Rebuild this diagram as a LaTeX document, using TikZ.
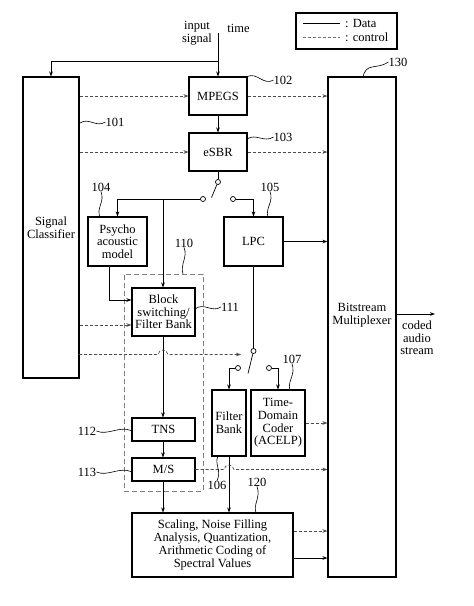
\documentclass[tikz,border=0pt]{standalone}
\usepackage{fontspec}
\setmainfont{Liberation Serif}
\usetikzlibrary{arrows.meta,calc}
\newcommand{\myfnt}{\fontsize{12.5}{12.7}\selectfont}
\tikzset{
  box/.style={draw, line width=1.1pt, inner sep=0pt, align=center, font=\myfnt},
  txt/.style={inner sep=0pt, align=center, font=\myfnt},
  data/.style={line width=0.7pt, -{Stealth[length=5pt,width=3.6pt]}},
  dataline/.style={line width=0.7pt},
  ctrl/.style={line width=0.7pt, draw=black!70, dash pattern=on 3pt off 2pt, -{Stealth[length=5pt,width=3.6pt]}},
  ctrlline/.style={line width=0.7pt, draw=black!55, dash pattern=on 3pt off 2pt},
  grp/.style={draw=black!50, line width=0.8pt, dash pattern=on 5pt off 3pt, inner sep=0pt},
  sw/.style={circle, draw, line width=0.7pt, fill=white, minimum size=5pt, inner sep=0pt},
  sq/.style={line width=0.6pt}
}
\begin{document}
\begin{tikzpicture}[x=1pt,y=-1pt]
\useasboundingbox (0,0) rectangle (474,606);
% legend
\node[draw, line width=1.1pt, minimum width=101pt, minimum height=36pt] (leg) at (346.5,31) {};
\coordinate (lg1a) at (303,23); \coordinate (lg1b) at (340,23);
\coordinate (lg2a) at (303,37); \coordinate (lg2b) at (340,37);
\draw[dataline] (lg1a) -- (lg1b);
\draw[ctrlline] (lg2a) -- (lg2b);
\node[txt, anchor=west] (lgt1) at (345,23) {: Data};
\node[txt, anchor=west] (lgt2) at (345,37) {: control};
% input
\node[txt] (insig) at (197,33) {input\\signal};
\node[txt] (time) at (238.5,28) {time};
% boxes
\node[box, minimum width=56pt, minimum height=301pt] (sc) at (51,227.5) {Signal\\Classifier};
\node[box, minimum width=58pt, minimum height=38pt] (mpegs) at (218,96) {MPEGS};
\node[box, minimum width=58pt, minimum height=38pt] (esbr) at (218,152) {eSBR};
\node[box, minimum width=59pt, minimum height=49pt] (psy) at (117.5,241.5) {Psycho\\acoustic\\model};
\node[box, minimum width=59pt, minimum height=49pt] (lpc) at (253.5,241.5) {LPC};
\node[grp, minimum width=79pt, minimum height=217pt] (g110) at (163.5,382.5) {};
\node[box, minimum width=63pt, minimum height=48pt] (blk) at (163.5,312) {Block\\switching/\\Filter Bank};
\node[box, minimum width=63pt, minimum height=23pt] (tns) at (163.5,429.5) {TNS};
\node[box, minimum width=63pt, minimum height=23pt] (ms) at (163.5,469.5) {M/S};
\node[box, minimum width=34pt, minimum height=66pt] (fb) at (229,423) {Filter\\Bank};
\node[box, minimum width=54pt, minimum height=66pt] (tdc) at (278,423) {Time-\\Domain\\Coder\\(ACELP)};
\node[box, minimum width=161pt, minimum height=64pt] (scal) at (212.5,545) {Scaling, Noise Filling\\Analysis, Quantization,\\Arithmetic Coding of\\Spectral Values};
\node[box, minimum width=68pt, minimum height=500pt] (mux) at (362,327) {};
\node[txt] (muxt) at (362,315) {Bitstream\\Multiplexer};
\node[txt] (outt) at (417,338) {coded\\audio\\stream};
% input connections
\coordinate (in) at (218,33);
\coordinate (j) at (218,61);
\draw[data] (in) -- (mpegs.north);
\draw[data] (j) -| (sc.north);
% control to/from mpegs, esbr
\draw[ctrl] (sc.east |- mpegs.west) -- (mpegs.west);
\draw[ctrl] (mpegs.east) -- (mpegs.east -| mux.west);
\draw[ctrl] (sc.east |- esbr.west) -- (esbr.west);
\draw[ctrl] (esbr.east) -- (esbr.east -| mux.west);
\draw[data] (mpegs) -- (esbr);
% switch 1
\node[sw] (p1) at (218,182) {};
\node[sw] (c1l) at (203,199) {};
\node[sw] (c1r) at (233,199) {};
\coordinate (a1) at (211.5,197.5);
\draw[dataline] (esbr.south) -- (p1.north);
\draw[dataline] (p1) -- (a1);
\draw[data] (c1l.west) -| (psy.north);
\coordinate (b1) at (163,199);
\draw[data] (b1) -- (b1 |- blk.north);
\draw[data] (c1r.east) -| (lpc.north);
\draw[data] (lpc.east) -- (lpc.east -| mux.west);
% psycho to block
\coordinate (bw1) at ([yshift=12pt]blk.west);
\coordinate (bw2) at ([yshift=-13pt]blk.west);
\coordinate (pb) at ([xshift=-8.5pt]psy.south);
\draw[data] (pb) |- (bw1);
\draw[ctrl] (sc.east |- bw2) -- (bw2);
% chain
\draw[data] (blk.south -| b1) -- (b1 |- tns.north);
\draw[data] (tns.south -| b1) -- (b1 |- ms.north);
\draw[data] (ms.south -| b1) -- (b1 |- scal.north);
% switch 2
\node[sw] (p2) at (253.5,351) {};
\node[sw] (c2l) at (238,368) {};
\node[sw] (c2r) at (269,368) {};
\coordinate (a2) at (248,373.5);
\draw[dataline] (lpc.south -| p2) -- (p2.north);
\draw[dataline] (p2) -- (a2);
\draw[data] (c2l.west) -| (fb.north);
\draw[data] (c2r.east) -| (tdc.north);
\coordinate (s2a) at (79,354.5);
\coordinate (s2e) at (241,354.5);
\draw[ctrl] (s2a) -- (158,354.5) .. controls (159,348.5) and (167,348.5) .. (168,354.5) -- (s2e);
% tdc / fb
\draw[ctrl] (tdc.east) -- (tdc.east -| mux.west);
\draw[data] (fb.south) -- (fb.south |- scal.north);
\draw[ctrl] (ms.east) -- (224,469.5) .. controls (225,463.5) and (233,463.5) .. (234,469.5) -- (ms.east -| mux.west);
% scaling to mux
\coordinate (se1) at ([yshift=14pt]scal.east);
\coordinate (se2) at ([yshift=-13pt]scal.east);
\draw[ctrl] (se1) -- (se1 -| mux.west);
\draw[data] (se2) -- (se2 -| mux.west);
% output
\coordinate (out) at (435,314);
\draw[data] (mux.east |- out) -- (out);
% reference labels
\node[txt] (l130) at (398,62) {130};
\draw[sq] (363,77) .. controls (366,62) and (377,70) .. (l130.west);
\node[txt] (l102) at (283,80) {102};
\draw[sq] (mpegs.north east) .. controls (257,72) and (264,86) .. (l102.west);
\node[txt] (l101) at (115,122) {101};
\draw[sq] (80,123) .. controls (89,117) and (96,128) .. (l101.west);
\node[txt] (l103) at (283,137) {103};
\draw[sq] (247,139) .. controls (256,133) and (264,143) .. (l103.west);
\node[txt] (l104) at (101,187) {104};
\draw[sq] (l104.south) .. controls (105,202) and (96,208) .. (100,217);
\node[txt] (l105) at (270,187) {105};
\draw[sq] (l105.south) .. controls (274,202) and (265,208) .. (268,217);
\node[txt] (l110) at (184,243) {110};
\draw[sq] (l110.south) .. controls (188,257) and (180,264) .. (183,274);
\node[txt] (l111) at (230,307) {111};
\draw[sq] (195,309) .. controls (204,302) and (212,313) .. (l111.west);
\node[txt] (l107) at (292,359) {107};
\draw[sq] (l107.south) .. controls (296,375) and (287,381) .. (290,390);
\node[txt] (l112) at (87,431) {112};
\draw[sq] (l112.east) .. controls (108,436) and (120,425) .. (132,431);
\node[txt] (l113) at (87,472) {113};
\draw[sq] (l113.east) .. controls (108,477) and (120,466) .. (132,472);
\node[txt] (l106) at (217,485) {106};
\draw[sq] (218,456) .. controls (214,465) and (222,470) .. (l106.north);
\node[txt] (l120) at (257,482) {120};
\draw[sq] (l120.south) .. controls (261,498) and (253,503) .. (256,513);
\end{tikzpicture}
\end{document}
